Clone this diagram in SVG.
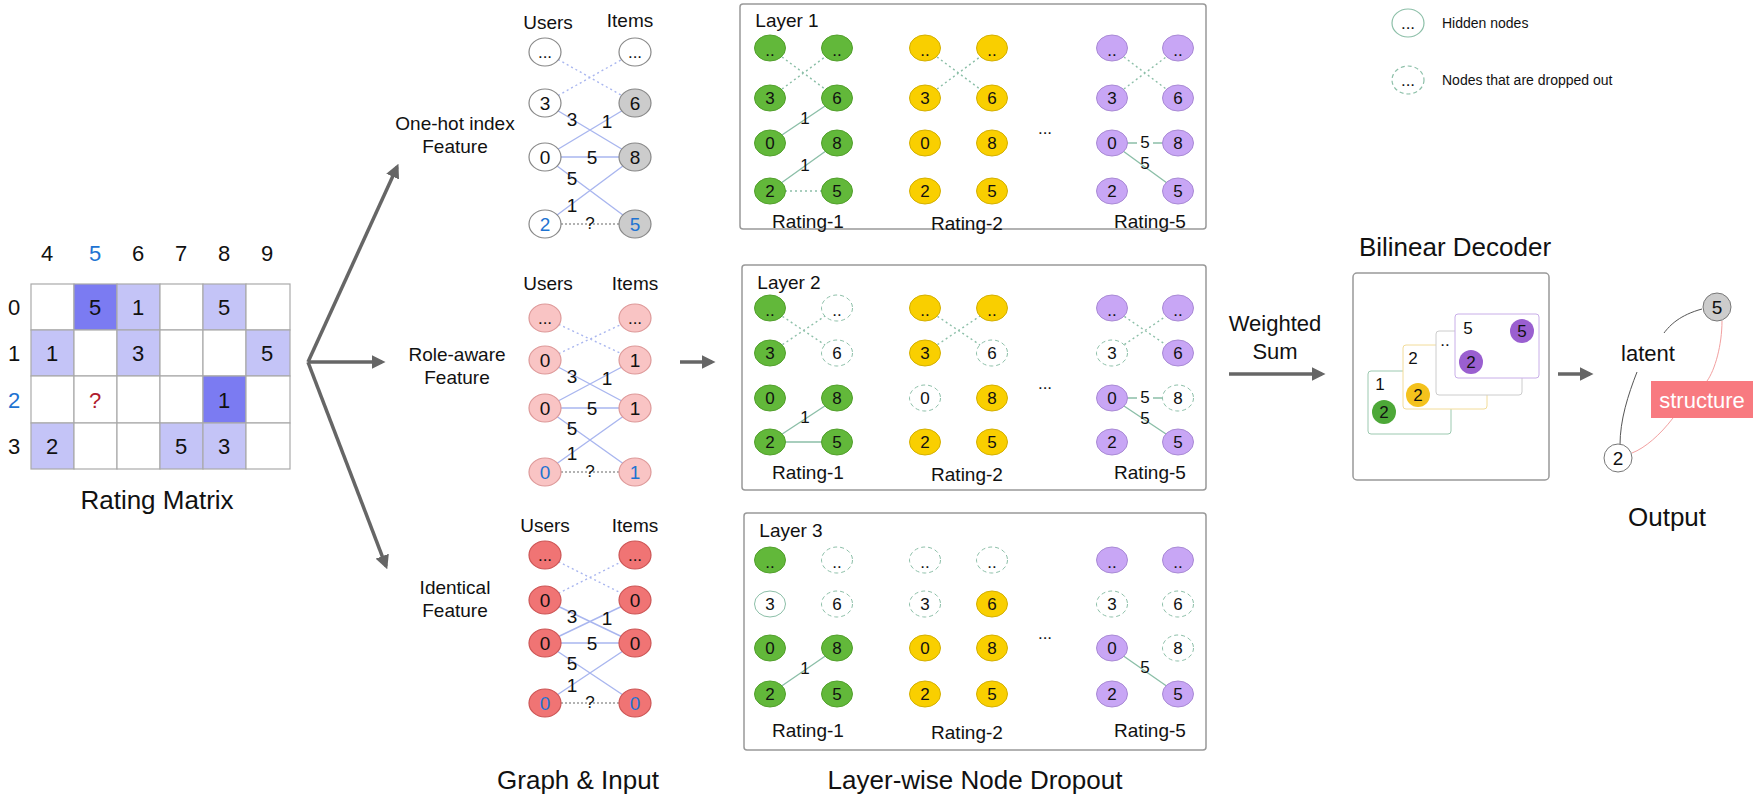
<svg xmlns="http://www.w3.org/2000/svg" width="1758" height="811" viewBox="0 0 1758 811">
<style>
text{font-family:"Liberation Sans",Arial,sans-serif;fill:#111;text-anchor:middle;dominant-baseline:central}
.t16{font-size:17px}.t18{font-size:19px}.t22{font-size:22px}.t26{font-size:26px}
.cell{stroke:#aaa;stroke-width:1.2}
.lt{fill:#c4c4f7}.dk{fill:#7b7bf2}.wh{fill:#fff}
.gn{stroke:#888;stroke-width:1.2}
.sol{stroke:#a9b6ef;stroke-width:1.4;fill:none}
.dot{stroke:#a9b6ef;stroke-width:1.4;stroke-dasharray:2 3;fill:none}
.qdot{stroke:#999;stroke-width:1.4;stroke-dasharray:2 2;fill:none}
.box{fill:#fff;stroke:#999;stroke-width:1.5}
.G{fill:#62b83a;stroke:#52a02c}.Y{fill:#f9cf00;stroke:#d4b000}.P{fill:#c8a6f5;stroke:#a98ad5}
.D{fill:#fff;stroke:#8cbfa8;stroke-dasharray:4 3}.H{fill:#fff;stroke:#8cbfa8}
.le{stroke:#8cbfa8;stroke-width:1.4;fill:none}
.ld{stroke:#8cbfa8;stroke-width:1.4;stroke-dasharray:2 3;fill:none}
.arr{stroke:#666;stroke-width:3.5;fill:none}
.blue{fill:#1e73d2}
</style>
<defs>
<marker id="ah" markerWidth="4" markerHeight="4" refX="3" refY="2" orient="auto" markerUnits="strokeWidth"><path d="M0,0L4,2L0,4z" fill="#666"/></marker>
</defs>

<g id="rating-matrix">
<text class="t22" x="47" y="253">4</text><text class="t22 blue" x="95" y="253">5</text><text class="t22" x="138" y="253">6</text><text class="t22" x="181" y="253">7</text><text class="t22" x="224" y="253">8</text><text class="t22" x="267" y="253">9</text>
<text class="t22" x="14" y="307">0</text><text class="t22" x="14" y="353">1</text><text class="t22 blue" x="14" y="400">2</text><text class="t22" x="14" y="446">3</text>
<rect class="cell wh" x="31" y="284" width="43" height="46"/><rect class="cell dk" x="74" y="284" width="43" height="46"/><rect class="cell lt" x="117" y="284" width="43" height="46"/><rect class="cell wh" x="160" y="284" width="43" height="46"/><rect class="cell lt" x="203" y="284" width="43" height="46"/><rect class="cell wh" x="246" y="284" width="44" height="46"/>
<rect class="cell lt" x="31" y="330" width="43" height="46"/><rect class="cell wh" x="74" y="330" width="43" height="46"/><rect class="cell lt" x="117" y="330" width="43" height="46"/><rect class="cell wh" x="160" y="330" width="43" height="46"/><rect class="cell wh" x="203" y="330" width="43" height="46"/><rect class="cell lt" x="246" y="330" width="44" height="46"/>
<rect class="cell wh" x="31" y="376" width="43" height="47"/><rect class="cell wh" x="74" y="376" width="43" height="47"/><rect class="cell wh" x="117" y="376" width="43" height="47"/><rect class="cell wh" x="160" y="376" width="43" height="47"/><rect class="cell dk" x="203" y="376" width="43" height="47"/><rect class="cell wh" x="246" y="376" width="44" height="47"/>
<rect class="cell lt" x="31" y="423" width="43" height="46"/><rect class="cell wh" x="74" y="423" width="43" height="46"/><rect class="cell wh" x="117" y="423" width="43" height="46"/><rect class="cell lt" x="160" y="423" width="43" height="46"/><rect class="cell lt" x="203" y="423" width="43" height="46"/><rect class="cell wh" x="246" y="423" width="44" height="46"/>
<text class="t22" x="95" y="307">5</text><text class="t22" x="138" y="307">1</text><text class="t22" x="224" y="307">5</text>
<text class="t22" x="52" y="353">1</text><text class="t22" x="138" y="353">3</text><text class="t22" x="267" y="353">5</text>
<text class="t22" x="95" y="400" style="fill:#b01c2e">?</text><text class="t22" x="224" y="400">1</text>
<text class="t22" x="52" y="446">2</text><text class="t22" x="181" y="446">5</text><text class="t22" x="224" y="446">3</text>
<text class="t26" x="157" y="500">Rating Matrix</text>
</g>

<g id="connectors">
<path class="arr" d="M308,362L397,167" marker-end="url(#ah)"/>
<path class="arr" d="M308,362L382,362" marker-end="url(#ah)"/>
<path class="arr" d="M308,362L386,566" marker-end="url(#ah)"/>
<path class="arr" d="M680,362L712,362" marker-end="url(#ah)"/>
<path class="arr" d="M1229,374L1322,374" marker-end="url(#ah)"/>
<path class="arr" d="M1558,374L1590,374" marker-end="url(#ah)"/>
</g>

<g id="graph-onehot">
<text class="t18" x="455" y="123">One-hot index</text><text class="t18" x="455" y="146">Feature</text>
<text class="t18" x="548" y="22">Users</text><text class="t18" x="630" y="20">Items</text>
<path class="dot" d="M545,52L635,103M545,103L635,52"/>
<path class="sol" d="M545,103L635,157M545,157L635,103M545,157L635,157M545,157L635,224M545,224L635,157"/>
<path class="qdot" d="M561,224L619,224"/>
<ellipse class="gn" cx="545" cy="52" rx="16" ry="14" fill="#fff"/><ellipse class="gn" cx="545" cy="103" rx="16" ry="14" fill="#fff"/><ellipse class="gn" cx="545" cy="157" rx="16" ry="14" fill="#fff"/><ellipse class="gn" cx="545" cy="224" rx="16" ry="14" fill="#fff"/>
<ellipse class="gn" cx="635" cy="52" rx="16" ry="14" fill="#fff"/><ellipse class="gn" cx="635" cy="103" rx="16" ry="14" fill="#ccc"/><ellipse class="gn" cx="635" cy="157" rx="16" ry="14" fill="#ccc"/><ellipse class="gn" cx="635" cy="224" rx="16" ry="14" fill="#ccc"/>
<text class="t16" x="545" y="52">...</text><text class="t18" x="545" y="103">3</text><text class="t18" x="545" y="157">0</text><text class="t18 blue" x="545" y="224">2</text>
<text class="t16" x="635" y="52">...</text><text class="t18" x="635" y="103">6</text><text class="t18" x="635" y="157">8</text><text class="t18 blue" x="635" y="224">5</text>
<text class="t18" x="572" y="119">3</text><text class="t18" x="607" y="121">1</text><text class="t18" x="592" y="157">5</text><text class="t18" x="572" y="178">5</text><text class="t18" x="572" y="205">1</text><text class="t16" x="590" y="223">?</text>
</g>

<g id="graph-role">
<text class="t18" x="457" y="354">Role-aware</text><text class="t18" x="457" y="377">Feature</text>
<text class="t18" x="548" y="283">Users</text><text class="t18" x="635" y="283">Items</text>
<path class="dot" d="M545,318L635,360M545,360L635,318"/>
<path class="sol" d="M545,360L635,408M545,408L635,360M545,408L635,408M545,408L635,472M545,472L635,408"/>
<path class="qdot" d="M561,472L619,472"/>
<g fill="#f9c4c4" stroke="#d99" stroke-width="1.2">
<ellipse cx="545" cy="318" rx="16" ry="14"/><ellipse cx="545" cy="360" rx="16" ry="14"/><ellipse cx="545" cy="408" rx="16" ry="14"/><ellipse cx="545" cy="472" rx="16" ry="14"/>
<ellipse cx="635" cy="318" rx="16" ry="14"/><ellipse cx="635" cy="360" rx="16" ry="14"/><ellipse cx="635" cy="408" rx="16" ry="14"/><ellipse cx="635" cy="472" rx="16" ry="14"/>
</g>
<text class="t16" x="545" y="318">...</text><text class="t18" x="545" y="360">0</text><text class="t18" x="545" y="408">0</text><text class="t18 blue" x="545" y="472">0</text>
<text class="t16" x="635" y="318">...</text><text class="t18" x="635" y="360">1</text><text class="t18" x="635" y="408">1</text><text class="t18 blue" x="635" y="472">1</text>
<text class="t18" x="572" y="376">3</text><text class="t18" x="607" y="378">1</text><text class="t18" x="592" y="408">5</text><text class="t18" x="572" y="428">5</text><text class="t18" x="572" y="453">1</text><text class="t16" x="590" y="471">?</text>
</g>

<g id="graph-identical">
<text class="t18" x="455" y="587">Identical</text><text class="t18" x="455" y="610">Feature</text>
<text class="t18" x="545" y="525">Users</text><text class="t18" x="635" y="525">Items</text>
<path class="dot" d="M545,555L635,600M545,600L635,555"/>
<path class="sol" d="M545,600L635,643M545,643L635,600M545,643L635,643M545,643L635,703M545,703L635,643"/>
<path class="qdot" d="M561,703L619,703"/>
<g fill="#f07474" stroke="#c55" stroke-width="1.2">
<ellipse cx="545" cy="555" rx="16" ry="14"/><ellipse cx="545" cy="600" rx="16" ry="14"/><ellipse cx="545" cy="643" rx="16" ry="14"/><ellipse cx="545" cy="703" rx="16" ry="14"/>
<ellipse cx="635" cy="555" rx="16" ry="14"/><ellipse cx="635" cy="600" rx="16" ry="14"/><ellipse cx="635" cy="643" rx="16" ry="14"/><ellipse cx="635" cy="703" rx="16" ry="14"/>
</g>
<text class="t16" x="545" y="555">...</text><text class="t18" x="545" y="600">0</text><text class="t18" x="545" y="643">0</text><text class="t18 blue" x="545" y="703">0</text>
<text class="t16" x="635" y="555">...</text><text class="t18" x="635" y="600">0</text><text class="t18" x="635" y="643">0</text><text class="t18 blue" x="635" y="703">0</text>
<text class="t18" x="572" y="616">3</text><text class="t18" x="607" y="618">1</text><text class="t18" x="592" y="643">5</text><text class="t18" x="572" y="663">5</text><text class="t18" x="572" y="685">1</text><text class="t16" x="590" y="702">?</text>
<text class="t26" x="578" y="780">Graph &amp; Input</text>
</g>

<g id="layer1">
<rect class="box" x="740" y="4" width="466" height="225" rx="3"/>
<text class="t18" x="787" y="20">Layer 1</text>
<path class="ld" d="M770,48L837,98M770,98L837,48M925,48L992,98M925,98L992,48M1112,48L1178,98M1112,98L1178,48M770,191L837,191"/>
<path class="le" d="M770,143L837,98M770,191L837,143M1112,143L1178,143M1112,143L1178,191"/>
<g stroke-width="1"><ellipse class="G" cx="770" cy="48" rx="15.5" ry="13"/><ellipse class="G" cx="837" cy="48" rx="15.5" ry="13"/><ellipse class="G" cx="770" cy="98" rx="15.5" ry="13"/><ellipse class="G" cx="837" cy="98" rx="15.5" ry="13"/><ellipse class="G" cx="770" cy="143" rx="15.5" ry="13"/><ellipse class="G" cx="837" cy="143" rx="15.5" ry="13"/><ellipse class="G" cx="770" cy="191" rx="15.5" ry="13"/><ellipse class="G" cx="837" cy="191" rx="15.5" ry="13"/>
<ellipse class="Y" cx="925" cy="48" rx="15.5" ry="13"/><ellipse class="Y" cx="992" cy="48" rx="15.5" ry="13"/><ellipse class="Y" cx="925" cy="98" rx="15.5" ry="13"/><ellipse class="Y" cx="992" cy="98" rx="15.5" ry="13"/><ellipse class="Y" cx="925" cy="143" rx="15.5" ry="13"/><ellipse class="Y" cx="992" cy="143" rx="15.5" ry="13"/><ellipse class="Y" cx="925" cy="191" rx="15.5" ry="13"/><ellipse class="Y" cx="992" cy="191" rx="15.5" ry="13"/>
<ellipse class="P" cx="1112" cy="48" rx="15.5" ry="13"/><ellipse class="P" cx="1178" cy="48" rx="15.5" ry="13"/><ellipse class="P" cx="1112" cy="98" rx="15.5" ry="13"/><ellipse class="P" cx="1178" cy="98" rx="15.5" ry="13"/><ellipse class="P" cx="1112" cy="143" rx="15.5" ry="13"/><ellipse class="P" cx="1178" cy="143" rx="15.5" ry="13"/><ellipse class="P" cx="1112" cy="191" rx="15.5" ry="13"/><ellipse class="P" cx="1178" cy="191" rx="15.5" ry="13"/></g>
<g class="t16"><text x="770" y="50">..</text><text x="837" y="50">..</text><text x="770" y="98">3</text><text x="837" y="98">6</text><text x="770" y="143">0</text><text x="837" y="143">8</text><text x="770" y="191">2</text><text x="837" y="191">5</text>
<text x="925" y="50">..</text><text x="992" y="50">..</text><text x="925" y="98">3</text><text x="992" y="98">6</text><text x="925" y="143">0</text><text x="992" y="143">8</text><text x="925" y="191">2</text><text x="992" y="191">5</text>
<text x="1112" y="50">..</text><text x="1178" y="50">..</text><text x="1112" y="98">3</text><text x="1178" y="98">6</text><text x="1112" y="143">0</text><text x="1178" y="143">8</text><text x="1112" y="191">2</text><text x="1178" y="191">5</text>
<text x="805" y="118">1</text><text x="805" y="165">1</text><rect x="1137" y="134" width="16" height="18" fill="#fff"/><text x="1145" y="142">5</text><text x="1145" y="163">5</text>
<text x="1045" y="128">...</text></g>
<text class="t18" x="808" y="221">Rating-1</text><text class="t18" x="967" y="223">Rating-2</text><text class="t18" x="1150" y="221">Rating-5</text>
</g>

<g id="layer2">
<rect class="box" x="742" y="265" width="464" height="225" rx="3"/>
<text class="t18" x="789" y="282">Layer 2</text>
<path class="ld" d="M770,308L837,353M770,353L837,308M925,308L992,353M925,353L992,308M1112,308L1178,353M1112,353L1178,308"/>
<path class="le" d="M770,442L837,398M770,442L837,442M1112,398L1178,398M1112,398L1178,442"/>
<g stroke-width="1"><ellipse class="G" cx="770" cy="308" rx="15.5" ry="13"/><ellipse class="D" cx="837" cy="308" rx="15.5" ry="13"/><ellipse class="G" cx="770" cy="353" rx="15.5" ry="13"/><ellipse class="D" cx="837" cy="353" rx="15.5" ry="13"/><ellipse class="G" cx="770" cy="398" rx="15.5" ry="13"/><ellipse class="G" cx="837" cy="398" rx="15.5" ry="13"/><ellipse class="G" cx="770" cy="442" rx="15.5" ry="13"/><ellipse class="G" cx="837" cy="442" rx="15.5" ry="13"/>
<ellipse class="Y" cx="925" cy="308" rx="15.5" ry="13"/><ellipse class="Y" cx="992" cy="308" rx="15.5" ry="13"/><ellipse class="Y" cx="925" cy="353" rx="15.5" ry="13"/><ellipse class="D" cx="992" cy="353" rx="15.5" ry="13"/><ellipse class="D" cx="925" cy="398" rx="15.5" ry="13"/><ellipse class="Y" cx="992" cy="398" rx="15.5" ry="13"/><ellipse class="Y" cx="925" cy="442" rx="15.5" ry="13"/><ellipse class="Y" cx="992" cy="442" rx="15.5" ry="13"/>
<ellipse class="P" cx="1112" cy="308" rx="15.5" ry="13"/><ellipse class="P" cx="1178" cy="308" rx="15.5" ry="13"/><ellipse class="D" cx="1112" cy="353" rx="15.5" ry="13"/><ellipse class="P" cx="1178" cy="353" rx="15.5" ry="13"/><ellipse class="P" cx="1112" cy="398" rx="15.5" ry="13"/><ellipse class="D" cx="1178" cy="398" rx="15.5" ry="13"/><ellipse class="P" cx="1112" cy="442" rx="15.5" ry="13"/><ellipse class="P" cx="1178" cy="442" rx="15.5" ry="13"/></g>
<g class="t16"><text x="770" y="310">..</text><text x="837" y="310">..</text><text x="770" y="353">3</text><text x="837" y="353">6</text><text x="770" y="398">0</text><text x="837" y="398">8</text><text x="770" y="442">2</text><text x="837" y="442">5</text>
<text x="925" y="310">..</text><text x="992" y="310">..</text><text x="925" y="353">3</text><text x="992" y="353">6</text><text x="925" y="398">0</text><text x="992" y="398">8</text><text x="925" y="442">2</text><text x="992" y="442">5</text>
<text x="1112" y="310">..</text><text x="1178" y="310">..</text><text x="1112" y="353">3</text><text x="1178" y="353">6</text><text x="1112" y="398">0</text><text x="1178" y="398">8</text><text x="1112" y="442">2</text><text x="1178" y="442">5</text>
<text x="805" y="417">1</text><rect x="1137" y="389" width="16" height="18" fill="#fff"/><text x="1145" y="397">5</text><text x="1145" y="418">5</text>
<text x="1045" y="383">...</text></g>
<text class="t18" x="808" y="472">Rating-1</text><text class="t18" x="967" y="474">Rating-2</text><text class="t18" x="1150" y="472">Rating-5</text>
</g>

<g id="layer3">
<rect class="box" x="744" y="513" width="462" height="237" rx="3"/>
<text class="t18" x="791" y="530">Layer 3</text>
<path class="le" d="M770,694L837,648M1112,648L1178,694"/>
<g stroke-width="1"><ellipse class="G" cx="770" cy="560" rx="15.5" ry="13"/><ellipse class="D" cx="837" cy="560" rx="15.5" ry="13"/><ellipse class="H" cx="770" cy="604" rx="15.5" ry="13"/><ellipse class="D" cx="837" cy="604" rx="15.5" ry="13"/><ellipse class="G" cx="770" cy="648" rx="15.5" ry="13"/><ellipse class="G" cx="837" cy="648" rx="15.5" ry="13"/><ellipse class="G" cx="770" cy="694" rx="15.5" ry="13"/><ellipse class="G" cx="837" cy="694" rx="15.5" ry="13"/>
<ellipse class="D" cx="925" cy="560" rx="15.5" ry="13"/><ellipse class="D" cx="992" cy="560" rx="15.5" ry="13"/><ellipse class="D" cx="925" cy="604" rx="15.5" ry="13"/><ellipse class="Y" cx="992" cy="604" rx="15.5" ry="13"/><ellipse class="Y" cx="925" cy="648" rx="15.5" ry="13"/><ellipse class="Y" cx="992" cy="648" rx="15.5" ry="13"/><ellipse class="Y" cx="925" cy="694" rx="15.5" ry="13"/><ellipse class="Y" cx="992" cy="694" rx="15.5" ry="13"/>
<ellipse class="P" cx="1112" cy="560" rx="15.5" ry="13"/><ellipse class="P" cx="1178" cy="560" rx="15.5" ry="13"/><ellipse class="D" cx="1112" cy="604" rx="15.5" ry="13"/><ellipse class="D" cx="1178" cy="604" rx="15.5" ry="13"/><ellipse class="P" cx="1112" cy="648" rx="15.5" ry="13"/><ellipse class="D" cx="1178" cy="648" rx="15.5" ry="13"/><ellipse class="P" cx="1112" cy="694" rx="15.5" ry="13"/><ellipse class="P" cx="1178" cy="694" rx="15.5" ry="13"/></g>
<g class="t16"><text x="770" y="562">..</text><text x="837" y="562">..</text><text x="770" y="604">3</text><text x="837" y="604">6</text><text x="770" y="648">0</text><text x="837" y="648">8</text><text x="770" y="694">2</text><text x="837" y="694">5</text>
<text x="925" y="562">..</text><text x="992" y="562">..</text><text x="925" y="604">3</text><text x="992" y="604">6</text><text x="925" y="648">0</text><text x="992" y="648">8</text><text x="925" y="694">2</text><text x="992" y="694">5</text>
<text x="1112" y="562">..</text><text x="1178" y="562">..</text><text x="1112" y="604">3</text><text x="1178" y="604">6</text><text x="1112" y="648">0</text><text x="1178" y="648">8</text><text x="1112" y="694">2</text><text x="1178" y="694">5</text>
<text x="805" y="668">1</text><text x="1145" y="667">5</text>
<text x="1045" y="633">...</text></g>
<text class="t18" x="808" y="730">Rating-1</text><text class="t18" x="967" y="732">Rating-2</text><text class="t18" x="1150" y="730">Rating-5</text>
<text class="t26" x="975" y="780">Layer-wise Node Dropout</text>
</g>

<g id="legend">
<ellipse class="H" cx="1408" cy="23" rx="16" ry="14" stroke-width="1.2"/><text class="t16" x="1408" y="23">...</text>
<text x="1442" y="23" style="font-size:14px;text-anchor:start">Hidden nodes</text>
<ellipse class="D" cx="1408" cy="80" rx="16" ry="14" stroke-width="1.2"/><text class="t16" x="1408" y="80">...</text>
<text x="1442" y="80" style="font-size:14px;text-anchor:start">Nodes that are dropped out</text>
</g>

<g id="weighted-sum"><text class="t22" x="1275" y="323">Weighted</text><text class="t22" x="1275" y="351">Sum</text></g>

<g id="bilinear-decoder">
<text class="t26" x="1455" y="247">Bilinear Decoder</text>
<rect class="box" x="1353" y="273" width="196" height="207" rx="4"/>
<rect x="1368" y="371" width="83" height="63" rx="3" fill="#fff" stroke="#9cc9b0"/>
<rect x="1403" y="345" width="84" height="64" rx="3" fill="#fff" stroke="#f2dc9a"/>
<rect x="1436" y="331" width="86" height="64" rx="3" fill="#fff" stroke="#ccc"/>
<rect x="1455" y="314" width="84" height="64" rx="3" fill="#fff" stroke="#c8aee8"/>
<text class="t16" x="1380" y="384">1</text><circle cx="1384" cy="412" r="12" fill="#4da838"/><text class="t16" x="1384" y="412">2</text>
<text class="t16" x="1413" y="358">2</text><circle cx="1418" cy="395" r="12" fill="#f4c21c"/><text class="t16" x="1418" y="395">2</text>
<text class="t16" x="1445" y="340">..</text>
<text class="t16" x="1468" y="328">5</text><circle cx="1522" cy="331" r="12" fill="#9a5fd0"/><text class="t16" x="1522" y="331">5</text>
<circle cx="1471" cy="362" r="12" fill="#9a5fd0"/><text class="t16" x="1471" y="362">2</text>
</g>

<g id="output">
<path d="M1702,309C1680,315 1670,325 1664,333M1637,372C1628,395 1620,420 1620,445" stroke="#555" stroke-width="1" fill="none"/>
<path d="M1722,321C1722,345 1715,370 1707,381M1673,418C1660,435 1645,448 1632,453" stroke="#f2a0a0" stroke-width="1" fill="none"/>
<circle cx="1717" cy="307" r="14" fill="#ccc" stroke="#777"/><text class="t18" x="1717" y="307">5</text>
<text class="t22" x="1648" y="353">latent</text>
<rect x="1651" y="381" width="102" height="37" fill="#f87a80"/><text class="t22" x="1702" y="400" style="fill:#fff">structure</text>
<circle cx="1618" cy="458" r="14" fill="#fff" stroke="#777"/><text class="t18" x="1618" y="458">2</text>
<text class="t26" x="1667" y="517">Output</text>
</g>
</svg>
